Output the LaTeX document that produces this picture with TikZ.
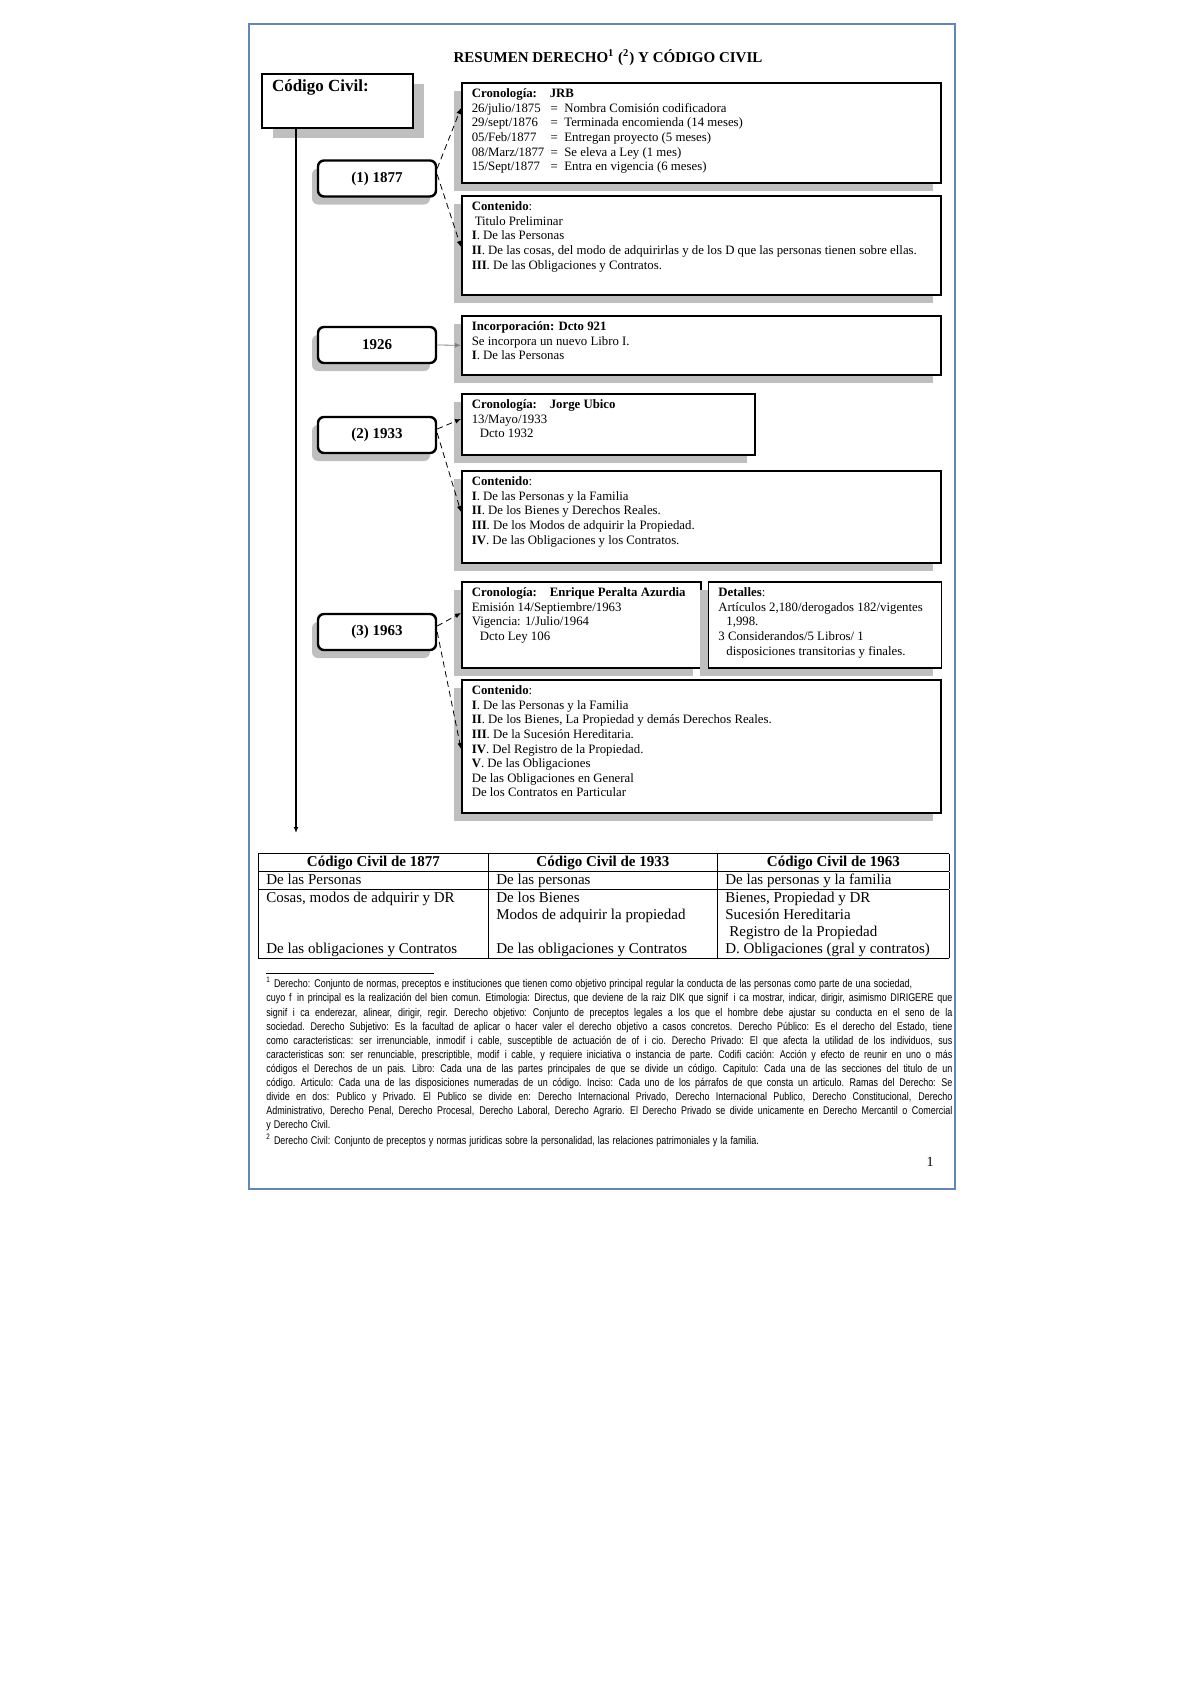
\documentclass[tikz,border=0pt]{standalone}
\usepackage{fontspec}
\setmainfont{Liberation Serif}
\newfontfamily\notefont[FakeStretch=0.8]{Liberation Sans}
\usetikzlibrary{arrows.meta, positioning, shadows}

\definecolor{framecol}{RGB}{96,135,190}
\newcommand{\boxfont}{\fontsize{6.4}{7.3}\selectfont}
\newcommand{\boxtext}[3]{\parbox[t][\dimexpr#2-6pt\relax][t]{\dimexpr#1-10pt\relax}{#3}}
\newcommand{\jline}[1]{\hbox to 343pt{#1}}
\newcommand{\notespacing}{\spaceskip=0.278em plus 1em minus 0.12em\relax\xspaceskip=0.36em plus 1em minus 0.12em\relax}

\begin{document}
\begin{tikzpicture}[
  x=0.5pt, y=-0.5pt,
  box/.style={draw, fill=white, line width=0.8pt, inner xsep=5pt, inner ysep=3pt, anchor=north west, font=\boxfont},
  lshade/.style={drop shadow={shadow xshift=-4pt, shadow yshift=-4pt, fill=black!25, opacity=1}},
  yearbox/.style={draw, fill=white, line width=1.2pt, rounded corners=3pt, minimum width=59pt, minimum height=18pt,
    font=\bfseries\fontsize{7.5}{9}\selectfont,
    drop shadow={shadow xshift=-3pt, shadow yshift=-4pt, fill=black!25, opacity=1}},
  arrow/.style={-{Latex[length=3pt, width=2.4pt]}, densely dashed, line width=0.4pt},
  frame/.style={draw=framecol, line width=0.8pt}
]
\useasboundingbox (0,0) rectangle (1200,1698);

% page frame and title
\draw[frame] (249,24) rectangle (955,1189);
\node[font=\bfseries\fontsize{7.5}{8.5}\selectfont] (titulo) at (608,58) {RESUMEN DERECHO\textsuperscript{1} (\textsuperscript{2}) Y CÓDIGO CIVIL};

% Root: Codigo Civil
\node[box, line width=1pt, font=\bfseries\fontsize{8.5}{10}\selectfont,
  drop shadow={shadow xshift=5.5pt, shadow yshift=-5pt, fill=black!25, opacity=1}] (codigo) at (261,73)
  {\boxtext{75.5pt}{27pt}{Código Civil:}};
\coordinate (trunkEnd) at (296,833);
\draw[-{Latex[length=3pt, width=2.4pt]}, line width=0.6pt] ([xshift=17.5pt]codigo.south west) -- (trunkEnd);

% Row 1: 1877
\node[yearbox] (y1877) at (377,178.5) {(1) 1877};
\node[box, lshade] (jrb) at (461,82) {\boxtext{239.5pt}{50pt}{%
  \textbf{Cronología:\quad JRB}\par
  \begin{tabular}[t]{@{}l@{\ \ =\ \ }l@{}}
  26/julio/1875 & Nombra Comisión codificadora\\
  29/sept/1876 & Terminada encomienda (14 meses)\\
  05/Feb/1877 & Entregan proyecto (5 meses)\\
  08/Marz/1877 & Se eleva a Ley (1 mes)\\
  15/Sept/1877 & Entra en vigencia (6 meses)
  \end{tabular}}};
\node[box, lshade] (c1877) at (461,195) {\boxtext{239.5pt}{49.5pt}{%
  \textbf{Contenido}:\\
  \hspace*{1.5pt}Titulo Preliminar\\
  \textbf{I}. De las Personas\\
  \textbf{II}. De las cosas, del modo de adquirirlas y de los D que las personas tienen sobre ellas.\\
  \textbf{III}. De las Obligaciones y Contratos.}};

\draw[arrow] ([yshift=5pt]y1877.east) -- ([yshift=-13pt]jrb.north west);
\draw[arrow] ([yshift=2pt]y1877.east) -- ([yshift=-26pt]c1877.north west);

% Row 2: 1926
\node[yearbox] (y1926) at (377,345) {1926};
\node[box, lshade] (incorp) at (461,315) {\boxtext{239.5pt}{29.5pt}{%
  \textbf{Incorporación: Dcto 921}\\
  Se incorpora un nuevo Libro I.\\
  \textbf{I}. De las Personas}};

\draw[-{Latex[length=3pt, width=2.4pt]}, gray, line width=0.4pt] (y1926.east) -- (incorp.west);

% Row 3: 1933
\node[yearbox] (y1933) at (377,435) {(2) 1933};
\node[box, lshade] (ubico) at (461,393) {\boxtext{146.5pt}{30.5pt}{%
  \textbf{Cronología:\quad Jorge Ubico}\\
  13/Mayo/1933\\
  \hspace*{4pt}Dcto 1932}};
\node[box, lshade] (c1933) at (461,470) {\boxtext{239.5pt}{46pt}{%
  \textbf{Contenido}:\\
  \textbf{I}. De las Personas y la Familia\\
  \textbf{II}. De los Bienes y Derechos Reales.\\
  \textbf{III}. De los Modos de adquirir la Propiedad.\\
  \textbf{IV}. De las Obligaciones y los Contratos.}};

\draw[arrow] ([yshift=3pt]y1933.east) -- ([yshift=-13pt]ubico.north west);
\draw[arrow] ([yshift=1pt]y1933.east) -- ([yshift=-21pt]c1933.north west);

% Row 4: 1963
\node[yearbox] (y1963) at (377,632) {(3) 1963};
\node[box, lshade] (epa) at (461,581) {\boxtext{119.5pt}{43pt}{%
  \textbf{Cronología:\quad Enrique Peralta Azurdia}\\
  Emisión 14/Septiembre/1963\\
  Vigencia: 1/Julio/1964\\
  \hspace*{4pt}Dcto Ley 106}};
\node[box, lshade, right=3pt of epa.north east, anchor=north west] (detalles) {\boxtext{116.5pt}{43pt}{%
  \textbf{Detalles}:\\
  Artículos 2,180/derogados 182/vigentes\\
  \hspace*{4pt}1,998.\\
  3 Considerandos/5 Libros/ 1\\
  \hspace*{4pt}disposiciones transitorias y finales.}};
\node[box, lshade] (c1963) at (461,679) {\boxtext{239.5pt}{66.5pt}{%
  \textbf{Contenido}:\\
  \textbf{I}. De las Personas y la Familia\\
  \textbf{II}. De los Bienes, La Propiedad y demás Derechos Reales.\\
  \textbf{III}. De la Sucesión Hereditaria.\\
  \textbf{IV}. Del Registro de la Propiedad.\\
  \textbf{V}. De las Obligaciones\\
  De las Obligaciones en General\\
  De los Contratos en Particular}};

\draw[arrow] ([yshift=3pt]y1963.east) -- ([yshift=-16pt]epa.north west);
\draw[arrow] (y1963.east) -- ([yshift=-35pt]c1963.north west);

% Comparison table
\node[anchor=north west, inner sep=0pt, font=\fontsize{7.5}{8.5}\selectfont] (tabla) at (258,853) {%
  \setlength{\tabcolsep}{4pt}\setlength{\arrayrulewidth}{0.5pt}%
  \begin{tabular}{|p{107pt}|p{106.5pt}|p{108pt}|}
  \hline
  \multicolumn{1}{|c|}{\textbf{Código Civil de 1877}} & \multicolumn{1}{c|}{\textbf{Código Civil de 1933}} & \multicolumn{1}{c|}{\textbf{Código Civil de 1963}}\\
  \hline
  De las Personas & De las personas & De las personas y la familia\\
  \hline
  Cosas, modos de adquirir y DR & De los Bienes & Bienes, Propiedad y DR\\
  & Modos de adquirir la propiedad & Sucesión Hereditaria\\
  & & \hspace*{2pt}Registro de la Propiedad\\
  De las obligaciones y Contratos & De las obligaciones y Contratos & D. Obligaciones (gral y contratos)\\
  \hline
  \end{tabular}};

% Footnotes
\draw[line width=0.5pt] (266,973) -- (434,973);
\node[anchor=north west, inner sep=0pt, text width=343pt, font=\notefont\fontsize{5.6}{7.05}\selectfont] (notas) at (266,977) {%
  \notespacing
  \textsuperscript{1} Derecho: Conjunto de normas, preceptos e instituciones que tienen como objetivo principal regular la conducta de las personas como parte de una sociedad,\par
  \jline{cuyo f\enspace in principal es la realización del bien comun. Etimologia: Directus, que deviene de la raiz DIK que signif\enspace i ca mostrar, indicar, dirigir, asimismo DIRIGERE que}
  \jline{signif\enspace i ca enderezar, alinear, dirigir, regir. Derecho objetivo: Conjunto de preceptos legales a los que el hombre debe ajustar su conducta en el seno de la}
  \jline{sociedad. Derecho Subjetivo: Es la facultad de aplicar o hacer valer el derecho objetivo a casos concretos. Derecho Público: Es el derecho del Estado, tiene}
  \jline{como caracteristicas: ser irrenunciable, inmodif\enspace i cable, susceptible de actuación de of\enspace i cio. Derecho Privado: El que afecta la utilidad de los individuos, sus}
  \jline{caracteristicas son: ser renunciable, prescriptible, modif\enspace i cable, y requiere iniciativa o instancia de parte. Codifi cación: Acción y efecto de reunir en uno o más}
  \jline{códigos el Derechos de un pais. Libro: Cada una de las partes principales de que se divide un código. Capitulo: Cada una de las secciones del titulo de un}
  \jline{código. Articulo: Cada una de las disposiciones numeradas de un código. Inciso: Cada uno de los párrafos de que consta un articulo. Ramas del Derecho: Se}
  \jline{divide en dos: Publico y Privado. El Publico se divide en: Derecho Internacional Privado, Derecho Internacional Publico, Derecho Constitucional, Derecho}
  \jline{Administrativo, Derecho Penal, Derecho Procesal, Derecho Laboral, Derecho Agrario. El Derecho Privado se divide unicamente en Derecho Mercantil o Comercial}
  y Derecho Civil.\par\vspace{0.8pt}
  \textsuperscript{2} Derecho Civil: Conjunto de preceptos y normas juridicas sobre la personalidad, las relaciones patrimoniales y la familia.};

\node[font=\fontsize{7}{8}\selectfont] (pagina) at (930,1162) {1};

\end{tikzpicture}
\end{document}
